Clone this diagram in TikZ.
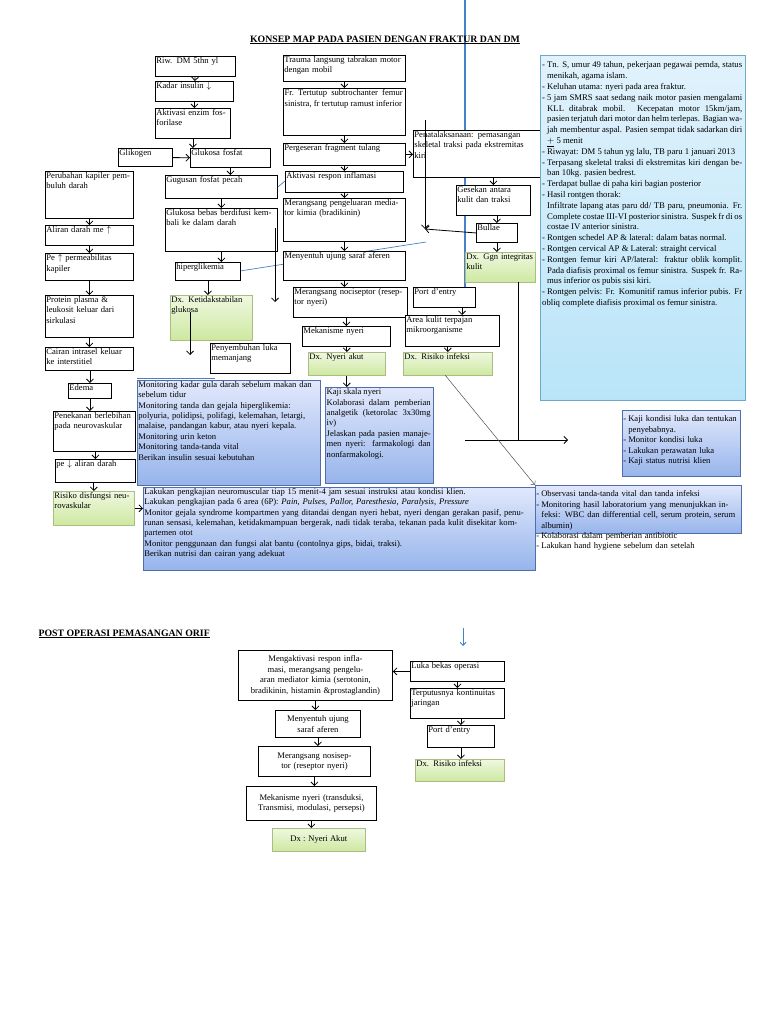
\documentclass[tikz,border=0pt]{standalone}
\usepackage{fontspec}
\setmainfont{Liberation Serif}
\usetikzlibrary{arrows.meta}
\definecolor{gtop}{RGB}{240,248,225}
\definecolor{gbot}{RGB}{205,232,160}
\definecolor{gline}{RGB}{170,190,130}
\definecolor{btop}{RGB}{225,232,252}
\definecolor{bbot}{RGB}{150,180,235}
\definecolor{bline}{RGB}{80,110,170}
\definecolor{itop}{RGB}{225,242,252}
\definecolor{ibot}{RGB}{185,228,248}
\definecolor{iline}{RGB}{110,170,200}
\definecolor{lblue}{RGB}{70,130,200}
\newcommand{\myitm}{\par\hangindent=5pt\hangafter=1\noindent-\hspace{2pt}}
\newcommand{\myfnt}{\fontsize{8.6}{10.4}\selectfont}
\newcommand{\mybx}[7]{%
  \node[#6, minimum width={#4-#2}, minimum height={#5-#3}, anchor=north west, inner sep=0pt] (#1) at (#2,#3) {};
  \node[anchor=north west, text width={#4-#2-3}, inner sep=1.2pt, align=left, font=\myfnt] at (#1.north west) {#7};}
\newcommand{\myjbx}[7]{%
  \node[#6, minimum width={#4-#2}, minimum height={#5-#3}, anchor=north west, inner sep=0pt] (#1) at (#2,#3) {};
  \node[anchor=north west, text width={#4-#2-4}, inner sep=1.5pt, align=justify, font=\myfnt] at (#1.north west) {#7};}
\begin{document}
\begin{tikzpicture}[x=1pt,y=-1pt,
  wb/.style={draw=black, fill=white, line width=0.9pt},
  gb/.style={draw=gline, top color=gtop, bottom color=gbot, line width=0.6pt},
  bb/.style={draw=bline, top color=btop, bottom color=bbot, line width=1pt},
  ib/.style={draw=iline, top color=itop, bottom color=ibot, line width=0.8pt},
  arr/.style={-{Straight Barb[length=3.5pt,width=7pt]}, line width=0.8pt},
  cbox/.style={wb, anchor=north west, align=center, font=\myfnt, inner sep=0pt},
  bl/.style={draw=lblue, line width=0.7pt}]
\useasboundingbox (0,0) rectangle (768,1024);
\draw[draw=lblue, line width=1.6pt] (465,0) -- (465,290);
\coordinate (vtop) at (425,120); \coordinate (vmid) at (425,229);
\coordinate (bl1) at (426,242);
\node[font=\bfseries\fontsize{9.8}{11}\selectfont] (title) at (385,40) {\underline{KONSEP MAP PADA PASIEN DENGAN FRAKTUR DAN DM}};
% left DM column
\mybx{riw}{155}{56}{235}{76}{wb}{Riw. DM 5thn yl}
\mybx{kadar}{155}{81}{233}{101}{wb}{Kadar insulin $\downarrow$}
\mybx{aktiv}{155}{108}{230}{138}{wb}{Aktivasi enzim fosforilase}
\mybx{glikogen}{118}{148}{172}{166}{wb}{Glikogen}
\mybx{gfos}{190}{148}{270}{167}{wb}{Glukosa fosfat}
\mybx{gugus}{165}{175}{277}{198}{wb}{Gugusan fosfat pecah}
\mybx{gbebas}{165}{208}{277}{251}{wb}{Glukosa bebas berdifusi kembali ke dalam darah}
\draw[bl] (gugus.east) -- (285,181);
\draw[bl] (240,271) -- (bl1);
\mybx{hiper}{175}{262}{240}{280}{wb}{hiperglikemia}
\mybx{dxket}{170}{295}{252}{340}{gb}{Dx. Ketidakstabilan glukosa}
\mybx{peny}{210}{343}{290}{373}{wb}{Penyembuhan luka memanjang}
\draw[bl] (137,378) -- (215,378);
% far left
\mybx{perub}{45}{171}{133}{218}{wb}{Perubahan kapiler pembuluh darah}
\mybx{aliran}{45}{225}{133}{245}{wb}{Aliran darah me $\uparrow$}
\mybx{peperm}{45}{253}{133}{280}{wb}{Pe $\uparrow$ permeabilitas kapiler}
\mybx{protein}{45}{295}{133}{337}{wb}{Protein plasma \& leukosit keluar dari sirkulasi}
\mybx{cairan}{45}{347}{133}{370}{wb}{Cairan intrasel keluar ke interstitiel}
\mybx{edema}{68}{383}{111}{398}{wb}{Edema}
\mybx{penek}{53}{411}{135}{451}{wb}{Penekanan berlebihan pada neurovaskular}
\mybx{pealir}{55}{459}{135}{482}{wb}{pe $\downarrow$ aliran darah}
\mybx{risdis}{53}{491}{134}{525}{gb}{Risiko disfungsi neurovaskular}
% middle
\mybx{trauma}{283}{55}{405}{81}{wb}{Trauma langsung tabrakan motor dengan mobil}
\myjbx{fr}{283}{88}{405}{135}{wb}{Fr.\ Tertutup subtrochanter femur sinistra, fr tertutup ramust inferior}
\mybx{perg}{283}{143}{405}{165}{wb}{Pergeseran fragment tulang}
\mybx{aresp}{285}{171}{403}{192}{wb}{Aktivasi respon inflamasi}
\mybx{meran}{283}{198}{405}{241}{wb}{Merangsang pengeluaran mediator kimia (bradikinin)}
\mybx{menye}{283}{251}{405}{280}{wb}{Menyentuh ujung saraf aferen}
\mybx{noci}{293}{287}{407}{317}{wb}{Merangsang nociseptor (reseptor nyeri)}
\mybx{mekan}{302}{326}{390}{346}{wb}{Mekanisme nyeri}
\mybx{dxnyeri}{308}{352}{385}{375}{gb}{Dx. Nyeri akut}
\mybx{penata}{413}{130}{540}{177}{wb}{Penatalaksanaan: pemasangan skeletal traksi pada ekstremitas kiri}
\mybx{gesek}{456}{185}{530}{215}{wb}{Gesekan antara kulit dan traksi}
\mybx{bullae}{476}{223}{517}{242}{wb}{Bullae}
\mybx{dxggn}{465}{252}{535}{282}{gb}{Dx. Ggn integritas kulit}
\mybx{port}{413}{287}{475}{307}{wb}{Port d'entry}
\mybx{area}{405}{315}{499}{346}{wb}{Area kulit terpajan mikroorganisme}
\mybx{risinf}{403}{352}{492}{375}{gb}{Dx. Risiko infeksi}
% info box
\node[ib, minimum width=205, minimum height=345, anchor=north west, inner sep=0pt] (info) at (540,55) {};
\node[anchor=north west, text width=200, inner sep=2pt, align=justify, font=\fontsize{8.7}{10.8}\selectfont] at (info.north west) {%
\myitm Tn. S, umur 49 tahun, pekerjaan pegawai pemda, status menikah, agama islam.
\myitm Keluhan utama: nyeri pada area fraktur.
\myitm 5 jam SMRS saat sedang naik motor pasien mengalami KLL ditabrak mobil. Kecepatan motor 15km/jam, pasien terjatuh dari motor dan helm terlepas. Bagian wajah membentur aspal. Pasien sempat tidak sadarkan diri $\underline{+}$ 5 menit
\myitm Riwayat: DM 5 tahun yg lalu, TB paru 1 januari 2013
\myitm Terpasang skeletal traksi di ekstremitas kiri dengan beban 10kg. pasien bedrest.
\myitm Terdapat bullae di paha kiri bagian posterior
\myitm Hasil rontgen thorak:\par\hangindent=5pt\hangafter=0\noindent Infiltrate lapang atas paru dd/ TB paru, pneumonia. Fr. Complete costae III-VI posterior sinistra. Suspek fr di os costae IV anterior sinistra.
\myitm Rontgen schedel AP \& lateral: dalam batas normal.
\myitm Rontgen cervical AP \& Lateral: straight cervical
\myitm Rontgen femur kiri AP/lateral: fraktur oblik komplit. Pada diafisis proximal os femur sinistra. Suspek fr. Ramus inferior os pubis sisi kiri.
\myitm Rontgen pelvis: Fr. Komunitif ramus inferior pubis. Fr obliq complete diafisis proximal os femur sinistra.};
% blue boxes
\mybx{mongula}{137}{380}{320}{485}{bb}{Monitoring kadar gula darah sebelum makan dan sebelum tidur\\Monitoring tanda dan gejala hiperglikemia: polyuria, polidipsi, polifagi, kelemahan, letargi, malaise, pandangan kabur, atau nyeri kepala.\\Monitoring urin keton\\Monitoring tanda-tanda vital\\Berikan insulin sesuai kebutuhan}
\myjbx{kaji}{325}{387}{433}{483}{bb}{Kaji skala nyeri\\Kolaborasi dalam pemberian analgetik (ketorolac 3x30mg iv)\\Jelaskan pada pasien manajemen nyeri: farmakologi dan nonfarmakologi.}
\mybx{lakukan}{143}{487}{535}{570}{bb}{Lakukan pengkajian neuromuscular tiap 15 menit-4 jam sesuai instruksi atau kondisi klien.\\Lakukan pengkajian pada 6 area (6P): \textit{Pain, Pulses, Pallor, Paresthesia, Paralysis, Pressure}\\Monitor gejala syndrome kompartmen yang ditandai dengan nyeri hebat, nyeri dengan gerakan pasif, penurunan sensasi, kelemahan, ketidakmampuan bergerak, nadi tidak teraba, tekanan pada kulit disekitar kompartemen otot\\Monitor penggunaan dan fungsi alat bantu (contolnya gips, bidai, traksi).\\Berikan nutrisi dan cairan yang adekuat}
\mybx{kajik}{622}{410}{740}{476}{bb}{\myitm Kaji kondisi luka dan tentukan penyebabnya.\myitm Monitor kondisi luka\myitm Lakukan perawatan luka\myitm Kaji status nutrisi klien}
\mybx{obs}{535}{485}{741}{533}{bb}{\myitm Observasi tanda-tanda vital dan tanda infeksi\myitm Monitoring hasil laboratorium yang menunjukkan infeksi: WBC dan differential cell, serum protein, serum albumin)\myitm Kolaborasi dalam pemberian antibiotic\myitm Lakukan hand hygiene sebelum dan setelah}
% arrows top
\draw[arr] (riw) -- (kadar);
\draw[arr] (kadar) -- (kadar.south |- aktiv.north);
\draw[arr] (aktiv.south) -- (aktiv.south |- gfos.north);
\draw[arr] (glikogen) -- (gfos);
\draw[arr] (gfos.south) -- (gfos.south |- gugus.north);
\draw[arr] (gugus.south) -- (gugus.south |- gbebas.north);
\draw[arr] (gbebas.south) -- (gbebas.south |- hiper.north);
\draw[arr] (hiper.south) -- (hiper.south |- dxket.north);
\coordinate (k1) at (190,355);
\draw[arr] (190,312) -- (k1);
\coordinate (l1) at (275,228); \coordinate (l2) at (275,302);
\draw[arr] (l1) -- (l2);
\foreach \a/\b in {perub/aliran, aliran/peperm, peperm/protein, protein/cairan}
  \draw[arr] (\a.south) -- (\a.south |- \b.north);
\draw[arr] (cairan.south -| edema) -- (edema.north);
\draw[arr] (edema.south) -- (edema.south |- penek.north);
\draw[arr] (penek.south -| pealir) -- (pealir.north);
\draw[arr] (pealir.south -| risdis) -- (risdis.north);
\draw[arr] (risdis.east) -- (risdis.east -| lakukan.west);
\foreach \a/\b in {trauma/fr, fr/perg, perg/aresp, aresp/meran, meran/menye}
  \draw[arr] (\a.south) -- (\a.south |- \b.north);
\draw[arr] (menye.south) -- (menye.south |- noci.north);
\draw[arr] (noci.south -| mekan) -- (mekan.north);
\draw[arr] (mekan.south -| dxnyeri) -- (dxnyeri.north);
\draw[arr] (dxnyeri.south) -- (dxnyeri.south |- kaji.north);
\draw[arr] (perg.east) -- (perg.east -| penata.west);
\draw[arr] (penata.south -| gesek) -- (gesek.north);
\draw[arr] (gesek.south -| bullae) -- (bullae.north);
\draw[arr] (bullae.south) -- (dxggn.north -| bullae.south);
\draw[arr] (bullae.west) -- (vmid);
\draw[arr] (vtop) -- (vmid);
\draw[arr] (port.south -| 462,0) -- (462,315);
\draw[arr] (area.south -| risinf) -- (risinf.north);
\coordinate (h1) at (465,440); \coordinate (h2) at (568,440);
\draw[line width=0.8pt] (518,282) -- (518,440);
\draw[arr] (h1) -- (h2);
\draw[-{Straight Barb[length=3pt,width=6pt]}, line width=0.5pt, black!70] (445,375) -- (obs.north west);
% bottom section
\node[anchor=west, font=\bfseries\fontsize{9.8}{11}\selectfont] (post) at (35,634) {\underline{POST OPERASI PEMASANGAN ORIF}};
\coordinate (ba1) at (463,628); \coordinate (ba2) at (463,646);
\draw[-{Straight Barb[length=3pt,width=6pt]}, draw=lblue, line width=0.9pt] (ba1) -- (ba2);
\node[cbox, minimum width=154, minimum height=50, text width=152] (meng) at (238,650) {Mengaktivasi respon inflamasi, merangsang pengeluaran mediator kimia (serotonin, bradikinin, histamin \&prostaglandin)};
\node[cbox, minimum width=85, minimum height=27, text width=80] (meny2) at (275,710) {Menyentuh ujung saraf aferen};
\node[cbox, minimum width=112, minimum height=30, text width=108] (mer2) at (258,746) {Merangsang nosiseptor (reseptor nyeri)};
\node[cbox, minimum width=130, minimum height=34, text width=128] (mek2) at (246,786) {Mekanisme nyeri (transduksi, Transmisi, modulasi, persepsi)};
\node[gb, minimum width=93, minimum height=23, anchor=north west, align=center, font=\myfnt, inner sep=0pt] (dxn2) at (272,828) {Dx : Nyeri Akut};
\mybx{luka}{410}{661}{504}{681}{wb}{Luka bekas operasi}
\mybx{terp}{410}{688}{504}{718}{wb}{Terputusnya kontinuitas jaringan}
\mybx{port2}{427}{725}{494}{747}{wb}{Port d'entry}
\mybx{dxr2}{415}{759}{504}{781}{gb}{Dx. Risiko infeksi}
\draw[arr] (luka.west) -- (luka.west -| meng.east);
\foreach \a/\b in {meng/meny2, meny2/mer2, mer2/mek2, mek2/dxn2}
  \draw[arr] (\a.south) -- (\a.south |- \b.north);
\draw[arr] (luka.south) -- (luka.south |- terp.north);
\draw[arr] (terp.south -| port2) -- (port2.north);
\draw[arr] (port2.south) -- (port2.south |- dxr2.north);
\end{tikzpicture}
\end{document}
